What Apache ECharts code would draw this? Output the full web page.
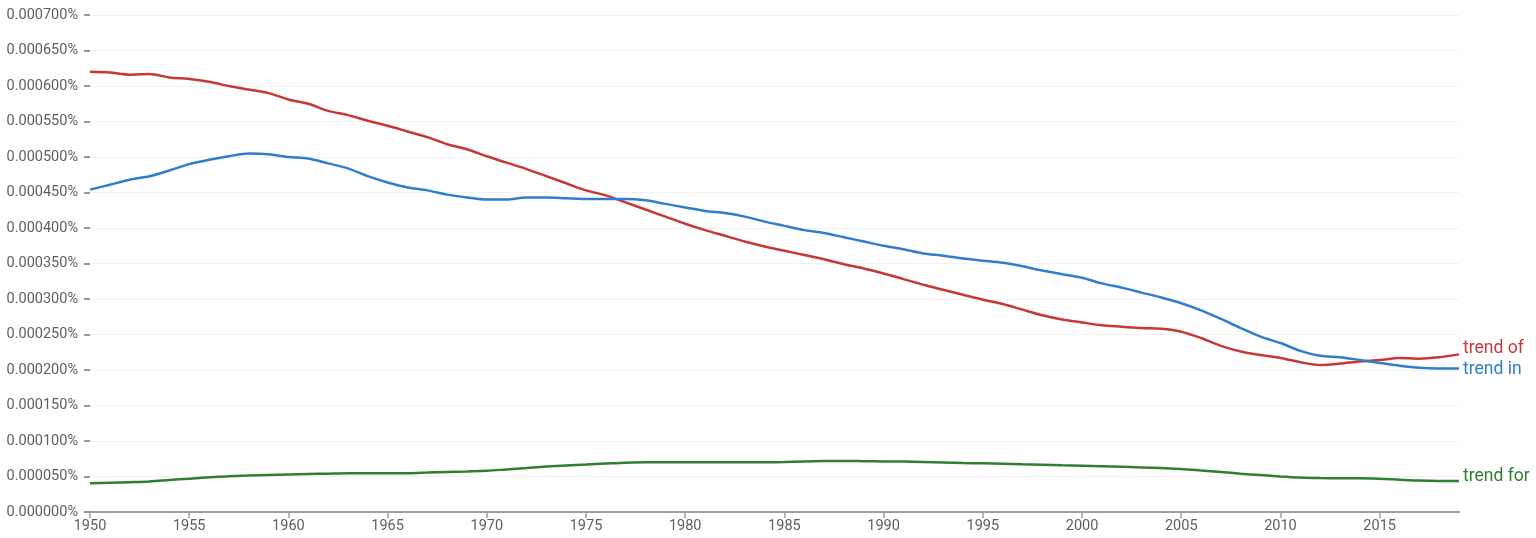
<!DOCTYPE html>
<html>
<head>
<meta charset="utf-8">
<script src="https://cdn.jsdelivr.net/npm/echarts@6/dist/echarts.min.js"></script>
<style>
  html, body { margin: 0; padding: 0; background: #fff; }
  #chart { width: 1536px; height: 538px; }
</style>
</head>
<body>
<div id="chart"></div>
<script>
// 年份 1950-2019
var years = [];
for (var y = 1950; y <= 2019; y++) years.push(String(y));

// 各词组出现频率（%）
var trendOf = [
  0.000620, 0.000619, 0.000616, 0.000617, 0.000612, 0.000610, 0.000606, 0.000600, 0.000595, 0.000590,
  0.000581, 0.000575, 0.000565, 0.000559, 0.000551, 0.000544, 0.000536, 0.000528, 0.000518, 0.000511,
  0.000501, 0.000492, 0.000483, 0.000473, 0.000463, 0.000453, 0.000446, 0.000436, 0.000426, 0.000416,
  0.000406, 0.000397, 0.000389, 0.000381, 0.000374, 0.000368, 0.000362, 0.000356, 0.000349, 0.000343,
  0.000336, 0.000328, 0.000320, 0.000313, 0.000306, 0.000299, 0.000293, 0.000285, 0.000277, 0.000271,
  0.000267, 0.000263, 0.000261, 0.000259, 0.000258, 0.000254, 0.000245, 0.000234, 0.000226, 0.000221,
  0.000217, 0.000211, 0.000207, 0.000209, 0.000212, 0.000214, 0.000217, 0.000216, 0.000218, 0.000222
];
var trendIn = [
  0.000454, 0.000461, 0.000468, 0.000473, 0.000481, 0.000490, 0.000496, 0.000501, 0.000505, 0.000504,
  0.000500, 0.000498, 0.000491, 0.000484, 0.000473, 0.000464, 0.000457, 0.000453, 0.000447, 0.000443,
  0.000440, 0.000440, 0.000443, 0.000443, 0.000442, 0.000441, 0.000441, 0.000441, 0.000439, 0.000434,
  0.000429, 0.000424, 0.000421, 0.000416, 0.000409, 0.000403, 0.000397, 0.000393, 0.000387, 0.000381,
  0.000375, 0.000370, 0.000364, 0.000361, 0.000357, 0.000354, 0.000351, 0.000346, 0.000340, 0.000335,
  0.000330, 0.000322, 0.000316, 0.000309, 0.000302, 0.000294, 0.000284, 0.000272, 0.000259, 0.000247,
  0.000238, 0.000227, 0.000220, 0.000218, 0.000214, 0.000210, 0.000206, 0.000203, 0.000202, 0.000202
];
var trendFor = [
  0.0000405, 0.0000412, 0.0000420, 0.0000430, 0.0000450, 0.0000470, 0.0000488, 0.0000505, 0.0000515, 0.0000522,
  0.0000528, 0.0000534, 0.0000540, 0.0000545, 0.0000545, 0.0000545, 0.0000546, 0.0000555, 0.0000565, 0.0000572,
  0.0000580, 0.0000600, 0.0000620, 0.0000640, 0.0000655, 0.0000668, 0.0000682, 0.0000695, 0.0000700, 0.0000702,
  0.0000702, 0.0000702, 0.0000702, 0.0000702, 0.0000702, 0.0000705, 0.0000712, 0.0000718, 0.0000720, 0.0000716,
  0.0000712, 0.0000710, 0.0000705, 0.0000698, 0.0000690, 0.0000685, 0.0000680, 0.0000672, 0.0000665, 0.0000658,
  0.0000652, 0.0000645, 0.0000638, 0.0000628, 0.0000618, 0.0000606, 0.0000585, 0.0000563, 0.0000540, 0.0000520,
  0.0000500, 0.0000485, 0.0000478, 0.0000476, 0.0000474, 0.0000468, 0.0000455, 0.0000443, 0.0000438, 0.0000437
];

var seriesNames = ['trend of', 'trend in', 'trend for'];
var seriesColors = ['#c83737', '#307dcd', '#337d33'];
var seriesData = [trendOf, trendIn, trendFor];
var labelShift = [-6, 1, -4];

var chart = echarts.init(document.getElementById('chart'));

var every5 = function (i) { return i % 5 === 0; };

var option = {
  animation: false,
  textStyle: { fontFamily: 'Roboto' },
  grid: { left: 90, right: 77, top: 15, bottom: 26, containLabel: false },
  xAxis: {
    type: 'category',
    data: years,
    boundaryGap: false,
    axisLine: { lineStyle: { color: '#9e9e9e', width: 2 } },
    axisTick: { interval: every5, length: 6, lineStyle: { color: '#9e9e9e', width: 1.5 } },
    axisLabel: { interval: every5, color: '#5f5f5f', fontSize: 14.5, margin: 7 },
    splitLine: { show: false }
  },
  yAxis: {
    type: 'value',
    min: 0,
    max: 0.0007,
    interval: 0.00005,
    axisLine: { show: false },
    axisTick: { show: true, length: 6, lineStyle: { color: '#757575', width: 1.5 } },
    axisLabel: {
      color: '#5f5f5f',
      fontSize: 14.5,
      margin: 12,
      formatter: function (v) { return v.toFixed(6) + '%'; }
    },
    splitLine: { lineStyle: { color: '#f2f2f2', width: 1 } }
  },
  series: seriesNames.map(function (name, i) {
    return {
      name: name,
      type: 'line',
      data: seriesData[i],
      smooth: 0.3,
      showSymbol: false,
      lineStyle: { color: seriesColors[i], width: 2.5 },
      itemStyle: { color: seriesColors[i] },
      endLabel: {
        show: true,
        formatter: '{a}',
        color: seriesColors[i],
        fontSize: 17.5,
        distance: 4,
        offset: [0, labelShift[i]]
      }
    };
  })
};

chart.setOption(option);
</script>
</body>
</html>
